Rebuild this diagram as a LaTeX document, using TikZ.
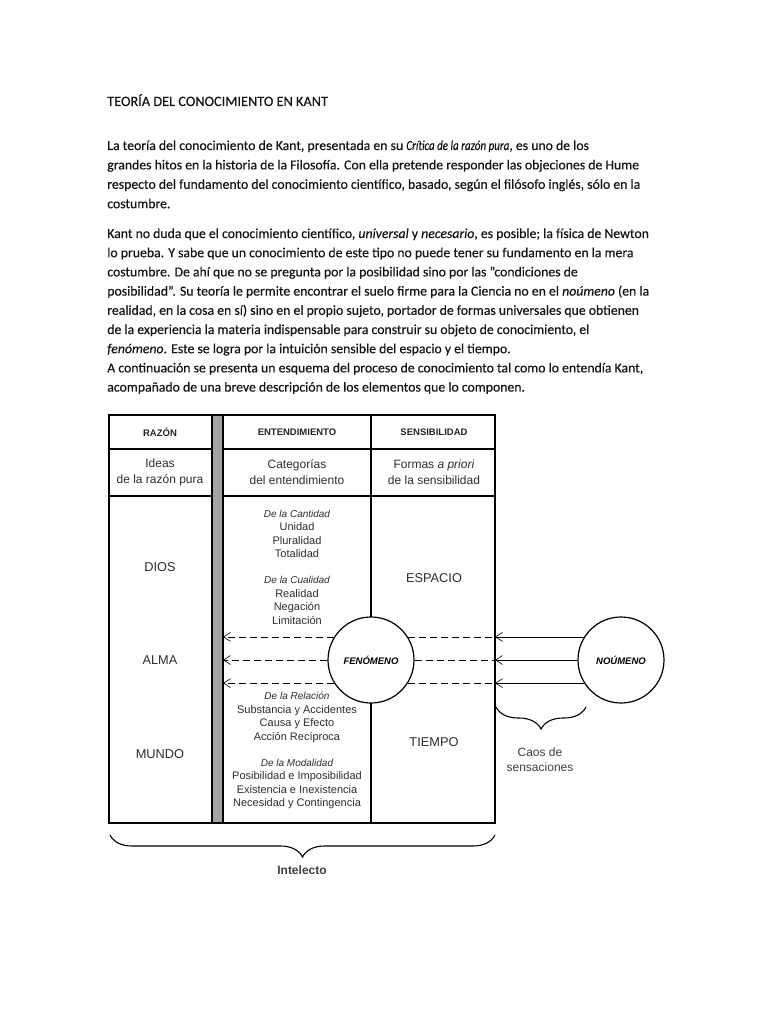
\documentclass[tikz,border=0pt]{standalone}
\usepackage{fontspec}
\setmainfont{Carlito}[FakeBold=0.3]
\newfontfamily\narrowit{Carlito}[FakeStretch=0.8, FakeBold=0.2]
\newfontfamily\arialfont{Liberation Sans}
\usepackage{tikz}
\usetikzlibrary{shapes, arrows.meta, positioning, decorations.pathreplacing}

\begin{document}
\begin{tikzpicture}[x=1pt, y=-1pt, >={Straight Barb[length=7pt, width=9pt]}, semithick]
		\tikzstyle{para}=[anchor=base west, inner sep=0pt, font=\fontsize{13.75}{16}\selectfont, text=black!92]
		\tikzstyle{head}=[inner sep=0pt, font=\arialfont\bfseries\fontsize{9.5}{11}\selectfont, text=black!85]
		\tikzstyle{cell}=[inner sep=0pt, align=center, font=\arialfont\fontsize{12}{16}\selectfont, text=black!82]
		\tikzstyle{big}=[inner sep=0pt, font=\arialfont\fontsize{12.8}{14}\selectfont, text=black!82]
		\tikzstyle{cat}=[inner sep=0pt, align=center, font=\arialfont\fontsize{11}{13.6}\selectfont, text=black!82]
		\tikzstyle{orb}=[circle, draw, line width=1.2pt, minimum size=86pt, inner sep=0pt, fill=white, font=\arialfont\bfseries\itshape\fontsize{9.5}{11}\selectfont]
		\tikzstyle{cbrace}=[decorate, decoration={brace, mirror, amplitude=22pt}, line width=1.1pt]
		\tikzstyle{lbl}=[inner sep=0pt, align=center, font=\arialfont\fontsize{12}{15}\selectfont, text=black!75]
		\tikzstyle{dashline}=[dashed, dash pattern=on 7pt off 4pt]

		\useasboundingbox[fill=white] (0,0) rectangle (768,1024);

		% texto
		\node[para, font=\fontsize{14.3}{16}\selectfont] (t0) at (107,106) {TEORÍA DEL CONOCIMIENTO EN KANT};
		\node[para] (p1) at (107,150) {La teoría del conocimiento de Kant, presentada en su {\narrowit\itshape Crítica de la razón pura}, es uno de los};
		\node[para] (p2) at (107,169.4) {grandes hitos en la historia de la Filosofía. Con ella pretende responder las objeciones de Hume};
		\node[para] (p3) at (107,188.8) {respecto del fundamento del conocimiento científico, basado, según el filósofo inglés, sólo en la};
		\node[para] (p4) at (107,208.2) {costumbre.};
		\node[para] (q1) at (107,238) {Kant no duda que el conocimiento científico, \textit{universal} y \textit{necesario}, es posible; la física de Newton};
		\node[para] (q2) at (107,257.2) {lo prueba. Y sabe que un conocimiento de este tipo no puede tener su fundamento en la mera};
		\node[para] (q3) at (107,276.4) {costumbre. De ahí que no se pregunta por la posibilidad sino por las "condiciones de};
		\node[para] (q4) at (107,295.6) {posibilidad". Su teoría le permite encontrar el suelo firme para la Ciencia no en el \textit{noúmeno} (en la};
		\node[para] (q5) at (107,314.8) {realidad, en la cosa en sí) sino en el propio sujeto, portador de formas universales que obtienen};
		\node[para] (q6) at (107,334) {de la experiencia la materia indispensable para construir su objeto de conocimiento, el};
		\node[para] (q7) at (107,353.2) {\textit{fenómeno}. Este se logra por la intuición sensible del espacio y el tiempo.};
		\node[para] (r1) at (107,372.4) {A continuación se presenta un esquema del proceso de conocimiento tal como lo entendía Kant,};
		\node[para] (r2) at (107,391.6) {acompañado de una breve descripción de los elementos que lo componen.};

		% cuadro
		\draw[line width=1.1pt] (109,415) rectangle (495,823);
		\draw[line width=1.1pt] (109,449) -- (495,449) (109,496) -- (495,496);
		\draw[line width=1.1pt] (371,415) -- (371,823);
		\draw[line width=1.1pt, fill=black!36] (212,415) rectangle (223,823);

		\node[head] (hRaz) at (160,432) {RAZÓN};
		\node[head] (hEnt) at (297,432) {ENTENDIMIENTO};
		\node[head] (hSen) at (434,432) {SENSIBILIDAD};

		\node[cell] (cRaz) at (160,472) {Ideas\\de la razón pura};
		\node[cell] (cEnt) at (297,472) {Categorías\\del entendimiento};
		\node[cell] (cSen) at (434,472) {Formas \textit{a priori}\\de la sensibilidad};

		\node[big] (dios) at (160,567) {DIOS};
		\node[big] (alma) at (160,660) {ALMA};
		\node[big] (mundo) at (160,754) {MUNDO};
		\node[big] (espacio) at (434,578) {ESPACIO};
		\node[big] (tiempo) at (434,742) {TIEMPO};

		\node[cat] (cant) at (297,534) {{\itshape\fontsize{10}{13.6}\selectfont De la Cantidad}\\Unidad\\Pluralidad\\Totalidad};
		\node[cat] (cual) at (297,600.5) {{\itshape\fontsize{10}{13.6}\selectfont De la Cualidad}\\Realidad\\Negación\\Limitación};
		\node[cat] (rel) at (297,717.5) {{\itshape\fontsize{10}{13.6}\selectfont De la Relación}\\Substancia y Accidentes\\Causa y Efecto\\Acción Recíproca};
		\node[cat] (moda) at (297,784) {{\itshape\fontsize{10}{13.6}\selectfont De la Modalidad}\\Posibilidad e Imposibilidad\\Existencia e Inexistencia\\Necesidad y Contingencia};

		% fenomeno y noumeno
		\node[orb] (fen) at (371,660) {FENÓMENO};
		\node[orb] (nou) at (621,660) {NOÚMENO};
		\coordinate (barR) at (223,660);
		\coordinate (tabR) at (495,660);

		\draw[->] (nou.148) -- (nou.148 -| tabR);
		\draw[->] (nou.180) -- (nou.180 -| tabR);
		\draw[->] (nou.212) -- (nou.212 -| tabR);
		\draw[dashline] (fen.32) -- (fen.32 -| tabR);
		\draw[dashline] (fen.0) -- (fen.0 -| tabR);
		\draw[dashline] (fen.-32) -- (fen.-32 -| tabR);
		\draw[->, dashline] (fen.148) -- (fen.148 -| barR);
		\draw[->, dashline] (fen.180) -- (fen.180 -| barR);
		\draw[->, dashline] (fen.212) -- (fen.212 -| barR);

		% llaves
		\coordinate (caosL) at (496,707);
		\coordinate (caosR) at (586,707);
		\draw[cbrace] (caosL) -- (caosR);
		\node[lbl] (caos) at (540,760) {Caos de\\sensaciones};

		\coordinate (intL) at (110,835);
		\coordinate (intR) at (495,835);
		\draw[cbrace] (intL) -- (intR);
		\node[lbl, font=\arialfont\bfseries\fontsize{12}{15}\selectfont] (intel) at (302,870) {Intelecto};
	\end{tikzpicture}
\end{document}
